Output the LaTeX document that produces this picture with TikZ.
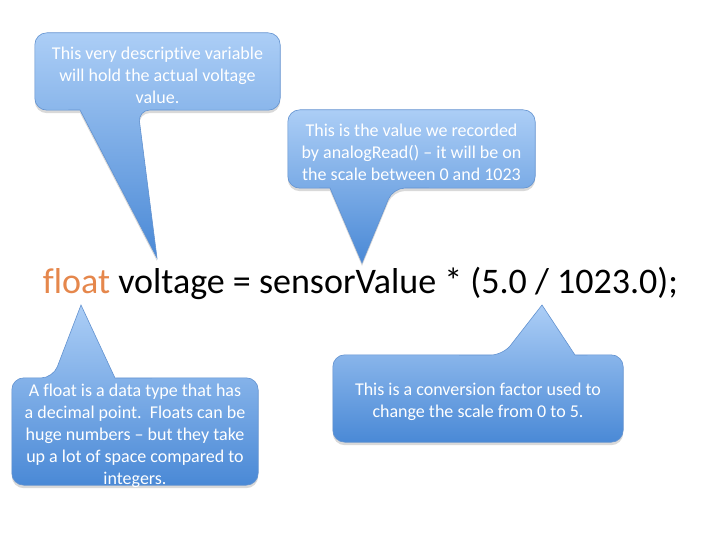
\documentclass[tikz,border=0pt]{standalone}
\usepackage{fontspec}
\setmainfont{Carlito}[Ligatures=NoCommon]
\usetikzlibrary{shadows,backgrounds}

\definecolor{calloutTop}{RGB}{172,206,246}
\definecolor{calloutBottom}{RGB}{74,137,214}
\definecolor{calloutLine}{RGB}{98,146,208}
\definecolor{floatOrange}{RGB}{229,135,76}

\begin{document}
\begin{tikzpicture}[x=1pt,y=-1pt]
	\tikzset{calloutframe/.style={inner sep=0pt}}
	\tikzset{callouttext/.style={inner sep=0pt, align=center, text=white, font=\fontsize{18}{22}\selectfont}}
	\tikzset{callout/.style={draw=calloutLine, line width=0.6pt, top color=calloutTop, bottom color=calloutBottom,
	         drop shadow={shadow xshift=0pt, shadow yshift=-3pt, opacity=0.3}}}
	\tikzset{codeline/.style={anchor=base, inner sep=0pt, font=\fontsize{36}{44}\selectfont}}

	\useasboundingbox (0,0) rectangle (720,540);

	%---NODES---
	\node[calloutframe, minimum width=245pt, minimum height=77pt] (descbox) at (157.5,71.5) {};
	\node[calloutframe, minimum width=247pt, minimum height=78pt] (recbox) at (411.5,149) {};
	\node[calloutframe, minimum width=246pt, minimum height=107pt] (floatbox) at (135,431.5) {};
	\node[calloutframe, minimum width=290pt, minimum height=87pt] (facbox) at (478,398.5) {};

	\node[callouttext] (desc) at (157.5,75.5) {This very descriptive variable\\will hold the actual voltage\\value.};
	\node[callouttext] (recorded) at (411.5,152.5) {This is the value we recorded\\by analogRead() -- it will be on\\the scale between 0 and 1023};
	\node[callouttext] (floatnote) at (135,436) {A float is a data type that has\\a decimal point.\ \ Floats can be\\huge numbers -- but they take\\up a lot of space compared to\\integers.};
	\node[callouttext] (factor) at (478,402) {This is a conversion factor used to\\change the scale from 0 to 5.};

	\node[codeline] (code) at (360.5,293) {\textcolor{floatOrange}{float} voltage = sensorValue * (5.0 / 1023.0);};

	%---TAILS---
	\coordinate (desctip) at (157,258);
	\coordinate (descL) at (80,110);
	\coordinate (descR) at (138,110);
	\coordinate (rectip) at (362,263);
	\coordinate (recL) at (330,188);
	\coordinate (recR) at (393,188);
	\coordinate (floattip) at (81,305);
	\coordinate (floatL) at (53,378);
	\coordinate (floatR) at (115,378);
	\coordinate (factip) at (542,305);
	\coordinate (facL) at (503,355);
	\coordinate (facR) at (575,355);

	%---CALLOUTS---
	\begin{scope}[on background layer]
	\draw[callout] (descbox.north) [rounded corners=12pt] -- (descbox.north east) -- (descbox.south east) -- (descR) [sharp corners] -- (desctip) -- (descL) [rounded corners=12pt] -- (descbox.south west) -- (descbox.north west) -- cycle;
	\draw[callout] (recbox.north) [rounded corners=12pt] -- (recbox.north east) -- (recbox.south east) -- (recR) [sharp corners] -- (rectip) -- (recL) [rounded corners=12pt] -- (recbox.south west) -- (recbox.north west) -- cycle;
	\draw[callout] (floatbox.south) [rounded corners=12pt] -- (floatbox.south west) -- (floatbox.north west) -- (floatL) [sharp corners] -- (floattip) -- (floatR) [rounded corners=12pt] -- (floatbox.north east) -- (floatbox.south east) -- cycle;
	\draw[callout] (facbox.south) [rounded corners=12pt] -- (facbox.south west) -- (facbox.north west) -- (facL) [sharp corners] -- (factip) -- (facR) [rounded corners=12pt] -- (facbox.north east) -- (facbox.south east) -- cycle;
	\end{scope}
\end{tikzpicture}
\end{document}
